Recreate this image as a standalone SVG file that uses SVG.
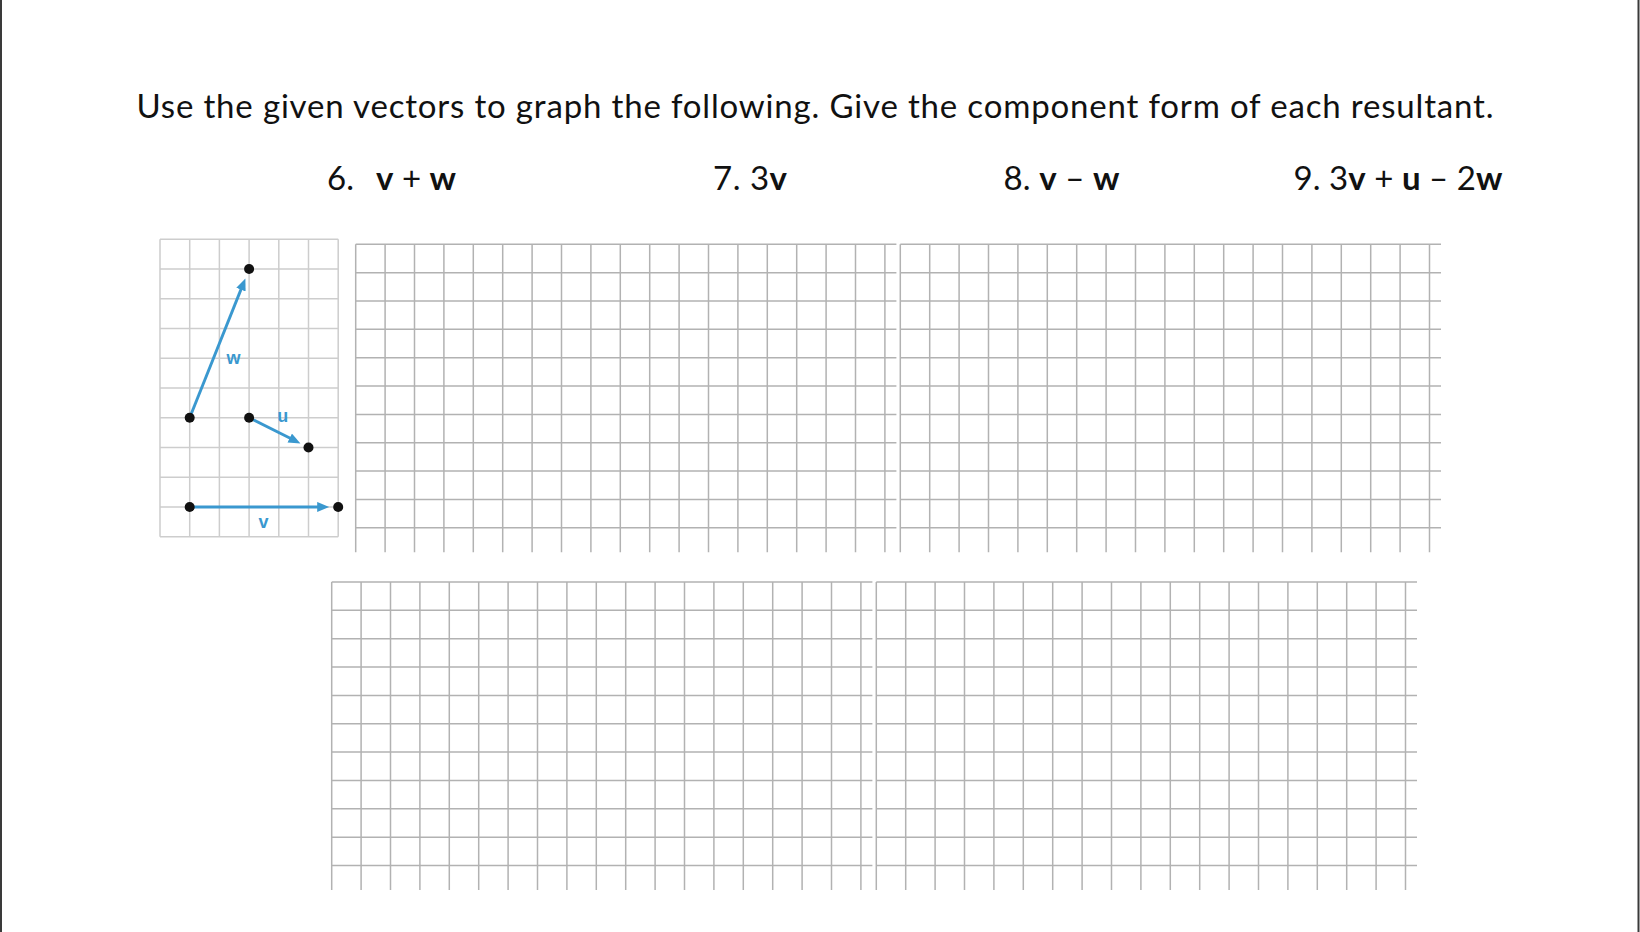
<svg xmlns="http://www.w3.org/2000/svg" xmlns:xlink="http://www.w3.org/1999/xlink" width="1640" height="932" viewBox="0 0 1640 932">
<style>
.t{font-family:Lato,"Open Sans","Liberation Sans",sans-serif;font-size:33px;fill:#111}
.b{font-weight:bold}
.grid{fill:none;stroke:#b2b2b2;stroke-width:1.5}
.sgrid{fill:none;stroke:#cdcdcd;stroke-width:1.5}
.vec{stroke:#3a98cf;stroke-width:2.9;fill:none}
.lbl{font-family:"Liberation Sans",Arial,sans-serif;font-size:18px;font-weight:bold;fill:#3a98cf;text-anchor:middle}
</style>
<defs>
<marker id="ah" markerUnits="userSpaceOnUse" markerWidth="14" markerHeight="12" refX="5" refY="5" orient="auto">
<path d="M0,0 L12,5 L0,10 z" fill="#3a98cf"/>
</marker>
<g id="gridT">
<path class="grid" d="M0,0V308 M29.4,0V308 M58.8,0V308 M88.2,0V308 M117.6,0V308 M147,0V308 M176.4,0V308 M205.8,0V308 M235.2,0V308 M264.6,0V308 M294,0V308 M323.4,0V308 M352.8,0V308 M382.2,0V308 M411.6,0V308 M441,0V308 M470.4,0V308 M499.8,0V308 M529.2,0V308 M0,0H540.7 M0,28.35H540.7 M0,56.7H540.7 M0,85.05H540.7 M0,113.4H540.7 M0,141.75H540.7 M0,170.1H540.7 M0,198.45H540.7 M0,226.8H540.7 M0,255.15H540.7 M0,283.5H540.7"/>
</g>
</defs>
<rect width="1640" height="932" fill="#fff"/>
<line x1="1" y1="0" x2="1" y2="932" stroke="#3a3a3a" stroke-width="2"/>
<line x1="1638.5" y1="0" x2="1638.5" y2="932" stroke="#3a3a3a" stroke-width="2"/>

<g id="title">
<text class="t" x="136.5" y="118" textLength="1357" lengthAdjust="spacing">Use the given vectors to graph the following. Give the component form of each resultant.</text>
</g>
<g id="problems">
<text class="t" x="327" y="190">6.</text>
<text class="t" x="376" y="190" textLength="80" lengthAdjust="spacing"><tspan class="b">v</tspan> + <tspan class="b">w</tspan></text>
<text class="t" x="713" y="190" textLength="74" lengthAdjust="spacing">7. 3<tspan class="b">v</tspan></text>
<text class="t" x="1003.5" y="190" textLength="116" lengthAdjust="spacing">8. <tspan class="b">v</tspan> – <tspan class="b">w</tspan></text>
<text class="t" x="1293.5" y="190" textLength="209" lengthAdjust="spacing">9. 3<tspan class="b">v</tspan> + <tspan class="b">u</tspan> – 2<tspan class="b">w</tspan></text>
</g>

<g id="given-grid">
<path class="sgrid" d="M160,239.3V536.7 M189.7,239.3V536.7 M219.4,239.3V536.7 M249.1,239.3V536.7 M278.8,239.3V536.7 M308.5,239.3V536.7 M338.2,239.3V536.7 M160,239.3H338.2 M160,269.04H338.2 M160,298.78H338.2 M160,328.52H338.2 M160,358.26H338.2 M160,388H338.2 M160,417.74H338.2 M160,447.48H338.2 M160,477.22H338.2 M160,506.96H338.2 M160,536.7H338.2"/>
</g>

<g id="vectors">
<line class="vec" x1="189.7" y1="417.74" x2="242.8" y2="284.9" marker-end="url(#ah)"/>
<line class="vec" x1="249.1" y1="417.74" x2="294.2" y2="440.3" marker-end="url(#ah)"/>
<line class="vec" x1="189.7" y1="506.96" x2="322.2" y2="506.96" marker-end="url(#ah)"/>
</g>
<g id="points" fill="#111">
<circle cx="249.1" cy="269.04" r="5"/>
<circle cx="189.7" cy="417.74" r="5"/>
<circle cx="249.1" cy="417.74" r="5"/>
<circle cx="308.5" cy="447.48" r="5"/>
<circle cx="189.7" cy="506.96" r="5"/>
<circle cx="338.2" cy="506.96" r="5"/>
</g>
<g id="vector-labels">
<text class="lbl" x="233.5" y="364">w</text>
<text class="lbl" x="282.7" y="422">u</text>
<text class="lbl" x="263.5" y="528">v</text>
</g>

<g id="grid-6"><use xlink:href="#gridT" x="355.7" y="244.3"/></g>
<g id="grid-7"><use xlink:href="#gridT" x="900.3" y="244.3"/></g>
<g id="grid-8"><use xlink:href="#gridT" x="331.7" y="582"/></g>
<g id="grid-9"><use xlink:href="#gridT" x="876.3" y="582"/></g>
</svg>
